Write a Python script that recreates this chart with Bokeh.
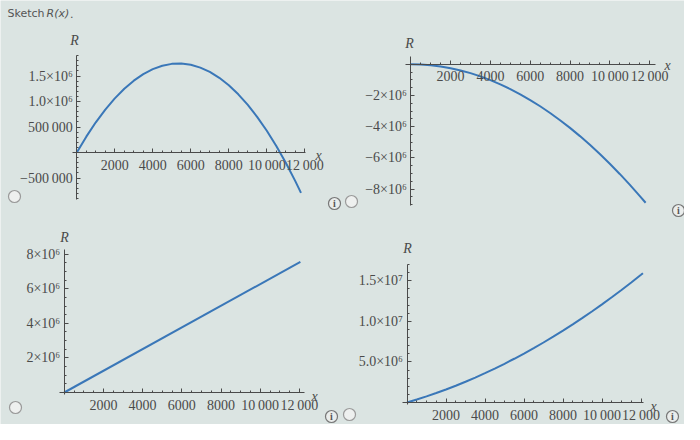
from bokeh.plotting import figure
from bokeh.models import Range1d, LinearAxis, FixedTicker, Label
from bokeh.embed import file_html
from bokeh.resources import INLINE

# ---------------- data ----------------
x1 = [0, 500, 1000, 1500, 2000, 2500, 3000, 3500, 4000, 4500, 5000, 5500, 6000,
      6500, 7000, 7500, 8000, 8500, 9000, 9500, 10000, 10500, 11000, 11500, 11800]
R1 = [0, 311000, 592000, 842000, 1061000, 1250000, 1409000, 1537000, 1635000,
      1702000, 1738000, 1745000, 1720000, 1665000, 1580000, 1464000, 1318000,
      1141000, 933000, 695000, 427000, 128000, -201000, -561000, -792000]

x2 = [0, 500, 1000, 1500, 2000, 2500, 3000, 3500, 4000, 4500, 5000, 5500, 6000,
      6500, 7000, 7500, 8000, 8500, 9000, 9500, 10000, 10500, 11000, 11500, 11800]
R2 = [0, -16000, -64000, -144000, -255000, -399000, -574000, -782000, -1021000,
      -1292000, -1595000, -1930000, -2297000, -2696000, -3126000, -3589000,
      -4083000, -4610000, -5168000, -5758000, -6380000, -7034000, -7720000,
      -8438000, -8883000]

x3 = [0, 12050]
R3 = [0, 7550000]

x4 = [0, 500, 1000, 1500, 2000, 2500, 3000, 3500, 4000, 4500, 5000, 5500, 6000,
      6500, 7000, 7500, 8000, 8500, 9000, 9500, 10000, 10500, 11000, 11500,
      12000, 12100]
R4 = [0, 363000, 751000, 1165000, 1604000, 2069000, 2559000, 3075000, 3616000,
      4183000, 4775000, 5393000, 6036000, 6705000, 7399000, 8119000, 8864000,
      9635000, 10431000, 11253000, 12100000, 12973000, 13871000, 14795000,
      15744000, 15937000]

X_TICKS = [2000, 4000, 6000, 8000, 10000, 12000]
X_LABELS = ["2000", "4000", "6000", "8000", "10\u2009000", "12\u2009000"]

Y1_TICKS = [-500000, 500000, 1000000, 1500000]
Y1_LABELS = ["\u2212500\u2009000", "500\u2009000", "1.0\u00d710\u2076", "1.5\u00d710\u2076"]
Y2_TICKS = [-2000000, -4000000, -6000000, -8000000]
Y2_LABELS = ["\u22122\u00d710\u2076", "\u22124\u00d710\u2076", "\u22126\u00d710\u2076", "\u22128\u00d710\u2076"]
Y3_TICKS = [2000000, 4000000, 6000000, 8000000]
Y3_LABELS = ["2\u00d710\u2076", "4\u00d710\u2076", "6\u00d710\u2076", "8\u00d710\u2076"]
Y4_TICKS = [5000000, 10000000, 15000000]
Y4_LABELS = ["5.0\u00d710\u2076", "1.0\u00d710\u2077", "1.5\u00d710\u2077"]

TITLE_A = "Sketch "
TITLE_B = "R(x)"
TITLE_C = "."

# ---------------- layout ----------------
W, H = 684, 424
BG = "#dbe4e2"
INK = "#4a4a4a"
BLUE = "#3a77b8"
SERIF = "Liberation Serif"

p = figure(width=W, height=H, output_backend="svg", toolbar_location=None,
           x_range=Range1d(8, 8 + W), y_range=Range1d(8 + H, 8),
           x_axis_type=None, y_axis_type=None, min_border=0, title=None,
           outline_line_color=None, background_fill_color=BG, border_fill_color=BG)

panels = [
    dict(name="a", X0=84.3, sx=0.019, Y0=160.0, sy=51e-6,
         xb=(-250, 12050), yb=(-920000, 1900000), ym=100000,
         yt=Y1_TICKS, yl=Y1_LABELS, x=x1, y=R1, rpos=(82, 48), xpos=(326, 163)),
    dict(name="b", X0=418.3, sx=0.0199, Y0=71.7, sy=15.6e-6,
         xb=(-270, 12300), yb=(-9070000, 490000), ym=500000,
         yt=Y2_TICKS, yl=Y2_LABELS, x=x2, y=R2, rpos=(417, 51), xpos=(675, 73)),
    dict(name="c", X0=71.7, sx=0.0196, Y0=400.0, sy=17.3e-6,
         xb=(-250, 12250), yb=(-120000, 8270000), ym=500000,
         yt=Y3_TICKS, yl=Y3_LABELS, x=x3, y=R3, rpos=(72, 245), xpos=(322, 404)),
    dict(name="d", X0=414.5, sx=0.0195, Y0=410.0, sy=8.11e-6,
         xb=(-230, 12150), yb=(-200000, 17000000), ym=1000000,
         yt=Y4_TICKS, yl=Y4_LABELS, x=x4, y=R4, rpos=(415, 256), xpos=(661, 414)),
]

ex, ey = {}, {}
for d in panels:
    ex["x" + d["name"]] = Range1d((8 - d["X0"]) / d["sx"], (8 + W - d["X0"]) / d["sx"])
    ey["y" + d["name"]] = Range1d(-(8 + H - d["Y0"]) / d["sy"], (d["Y0"] - 8) / d["sy"])
p.extra_x_ranges = ex
p.extra_y_ranges = ey


def style(ax, standoff):
    ax.axis_line_color = INK
    ax.axis_line_width = 1
    ax.major_tick_line_color = INK
    ax.major_tick_in = 4
    ax.major_tick_out = 0
    ax.minor_tick_line_color = INK
    ax.minor_tick_in = 2
    ax.minor_tick_out = 0
    ax.major_label_text_font = SERIF
    ax.major_label_text_font_size = "14px"
    ax.major_label_text_color = INK
    ax.major_label_standoff = standoff


for d in panels:
    nx, ny = "x" + d["name"], "y" + d["name"]
    xminor = [500 * i for i in range(1, 25)]
    xa = LinearAxis(x_range_name=nx, y_range_name=ny, fixed_location=0,
                    bounds=d["xb"],
                    ticker=FixedTicker(ticks=X_TICKS, minor_ticks=xminor),
                    major_label_overrides=dict(zip(X_TICKS, X_LABELS)))
    style(xa, 5)
    p.add_layout(xa, "below")

    lo, hi = d["yb"]
    step = d["ym"]
    yminor = [k * step for k in range(int(lo // step) + 1, int(hi // step) + 1) if k != 0]
    ya = LinearAxis(x_range_name=nx, y_range_name=ny, fixed_location=0,
                    bounds=d["yb"],
                    ticker=FixedTicker(ticks=d["yt"], minor_ticks=yminor),
                    major_label_overrides=dict(zip(d["yt"], d["yl"])))
    style(ya, 4)
    p.add_layout(ya, "left")

    p.line(d["x"], d["y"], x_range_name=nx, y_range_name=ny,
           line_color=BLUE, line_width=2)

    p.add_layout(Label(x=d["rpos"][0], y=d["rpos"][1], text="R", text_font=SERIF,
                       text_font_style="italic", text_font_size="14px",
                       text_color=INK, text_align="center", text_baseline="middle"))
    p.add_layout(Label(x=d["xpos"][0], y=d["xpos"][1], text="x", text_font=SERIF,
                       text_font_style="italic", text_font_size="14px",
                       text_color=INK, text_align="center", text_baseline="middle"))

# title
p.add_layout(Label(x=15, y=21, text=TITLE_A, text_font="DejaVu Sans",
                   text_font_size="11px", text_color="#555555",
                   text_align="left", text_baseline="middle"))
p.add_layout(Label(x=54, y=21, text=TITLE_B, text_font="DejaVu Sans",
                   text_font_style="italic", text_font_size="11px",
                   text_color="#555555", text_align="left", text_baseline="middle"))
p.add_layout(Label(x=77.5, y=21, text=TITLE_C, text_font="DejaVu Sans",
                   text_font_size="11px", text_color="#555555",
                   text_align="left", text_baseline="middle"))

# radio buttons and info icons
radio_x = [22, 359, 23, 357]
radio_y = [204, 209, 415, 422]
p.scatter(radio_x, radio_y, marker="circle", size=12, fill_color="#f3f3f3",
          fill_alpha=0.8, line_color="#9a9a9a", line_width=1.2)
info_x = [342, 686, 339, 680]
info_y = [211, 218, 424, 424]
p.scatter(info_x, info_y, marker="circle", size=12, fill_color="#f3f3f3",
          fill_alpha=0.6, line_color="#777777", line_width=1.2)
p.text(info_x, info_y, text=["i"] * len(info_x), text_font={"value": SERIF},
       text_font_size="10px", text_font_style="bold", text_color="#555555",
       text_align="center", text_baseline="middle")

open("out.html", "w").write(file_html(p, INLINE))
